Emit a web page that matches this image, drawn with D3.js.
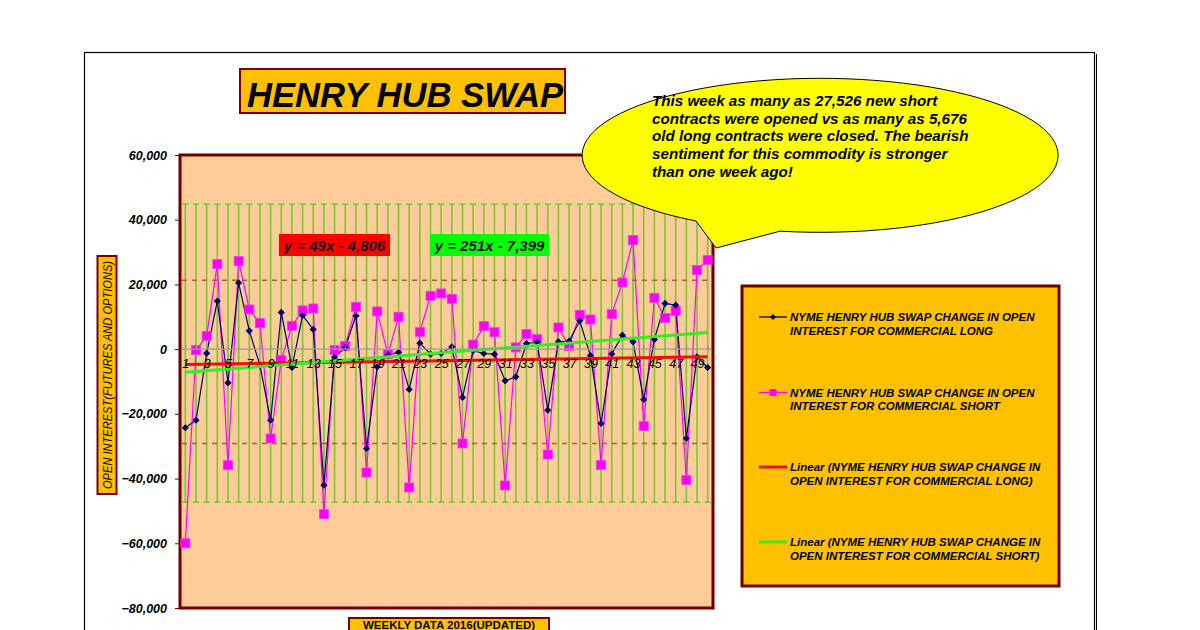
<!DOCTYPE html>
<html>
<head>
<meta charset="utf-8">
<script src="https://cdn.jsdelivr.net/npm/d3@7"></script>
<style>
  html, body { margin: 0; padding: 0; background: #ffffff; }
  svg { display: block; font-family: "Liberation Sans", Arial, sans-serif; }
</style>
</head>
<body>
<svg id="chart" width="1200" height="630"></svg>
<script>
// ---------------- DATA ----------------
const weeks = [1,2,3,4,5,6,7,8,9,10,11,12,13,14,15,16,17,18,19,20,21,22,23,24,25,
               26,27,28,29,30,31,32,33,34,35,36,37,38,39,40,41,42,43,44,45,46,47,48,49,50];
const weekLabels = weeks.map(w => (w % 2 === 1 ? String(w) : ""));

const commercialLong = [
  -24300, -21950, -1300, 14840, -10400, 20500, 5660, -5000, -21950, 11340,
  -5660, 10400, 6080, -42040, -2500, 500, 10300, -30700, -5460, -1800,
  -930, -12460, 1850, -1550, -1340, 710, -14930, -500, -1340, -1550,
  -9800, -8560, 1750, 2200, -18860, 2270, 2470, 8760, -2000, -22970,
  -1500, 4330, 2270, -15550, 3000, 14120, 13600, -27600, -2370, -5676
];
const commercialShort = [
  -60000, -300, 4020, 26270, -35860, 27200, 12260, 8040, -27600, -3400,
  7200, 11960, 12570, -51000, -300, 1000, 13080, -38120, 11650, -1600,
  9990, -42750, 5350, 16480, 17210, 15550, -29150, 1400, 7110, 5250,
  -42140, 530, 4640, 3100, -32560, 6700, 930, 10610, 9170, -35760,
  10820, 20610, 33690, -23800, 15860, 9580, 11840, -40490, 24420, 27526
];

const yTicks = [60000, 40000, 20000, 0, -20000, -40000, -60000, -80000];
const yDomain = [-80000, 60000];

// trend lines (from the equations shown on the chart)
const trendNames = ["long", "short"];
const trendSlopes = [49, 251];
const trendIntercepts = [-4806, -7399];
const equationTexts = ["y = 49x - 4,806", "y = 251x - 7,399"];

// vertical green bars (high / low) and dashed reference levels
const barHigh = [44800];
const barLow = [-47300];
const dashedLevels = [21300, -29150];

const titleText = "HENRY HUB SWAP";
const yTitle = "OPEN INTEREST(FUTURES AND OPTIONS)";
const xTitle = "WEEKLY DATA 2016(UPDATED)";
const calloutLines = [
  "This week as many as 27,526 new short",
  "contracts were opened vs as many as 5,676",
  "old long contracts were closed. The bearish",
  "sentiment for this commodity is stronger",
  "than one week ago!"
];
const legendEntries = [
  ["NYME HENRY HUB SWAP CHANGE IN OPEN", "INTEREST FOR COMMERCIAL LONG"],
  ["NYME HENRY HUB SWAP CHANGE IN OPEN", "INTEREST FOR COMMERCIAL SHORT"],
  ["Linear (NYME HENRY HUB SWAP CHANGE IN", "OPEN INTEREST FOR COMMERCIAL LONG)"],
  ["Linear (NYME HENRY HUB SWAP CHANGE IN", "OPEN INTEREST FOR COMMERCIAL SHORT)"]
];

// ---------------- DRAW ----------------
const svg = d3.select("#chart");
const P = { left: 180, right: 713, top: 155, bottom: 608 };

const x = d3.scalePoint().domain(weeks).range([P.left, P.right]).padding(0.5);
const y = d3.scaleLinear().domain(yDomain).range([P.bottom, P.top]);

// outer frame
svg.append("rect").attr("x", 84.5).attr("y", 52.5).attr("width", 1010).attr("height", 640)
  .attr("fill", "none").attr("stroke", "#000").attr("stroke-width", 1.2);
svg.append("line").attr("x1", 1096.5).attr("x2", 1096.5).attr("y1", 54).attr("y2", 630)
  .attr("stroke", "#000").attr("stroke-width", 1);

// plot area
svg.append("rect").attr("x", P.left).attr("y", P.top)
  .attr("width", P.right - P.left).attr("height", P.bottom - P.top)
  .attr("fill", "#FFCC99").attr("stroke", "#6E0000").attr("stroke-width", 3);

// green vertical bars with caps
const gBars = svg.append("g");
weeks.forEach(w => {
  const cx = x(w);
  gBars.append("line").attr("x1", cx).attr("x2", cx)
    .attr("y1", y(barHigh[0])).attr("y2", y(barLow[0]))
    .attr("stroke", "#6CCF2E").attr("stroke-width", 1.6);
  [barHigh[0], barLow[0]].forEach(v => {
    gBars.append("line").attr("x1", cx - 3).attr("x2", cx + 3)
      .attr("y1", y(v)).attr("y2", y(v))
      .attr("stroke", "#6CCF2E").attr("stroke-width", 1.6);
  });
});

// dashed levels
dashedLevels.forEach(v => {
  svg.append("line").attr("x1", P.left + 2).attr("x2", P.right - 2)
    .attr("y1", y(v)).attr("y2", y(v))
    .attr("stroke", "#A8602A").attr("stroke-width", 1.5)
    .attr("stroke-dasharray", "5,5");
});

// y axis
const yAxis = svg.append("g").attr("transform", `translate(${P.left - 1},0)`)
  .call(d3.axisLeft(y).tickValues(yTicks).tickFormat(d3.format(",")).tickSize(4).tickPadding(8));
yAxis.select(".domain").remove();
yAxis.selectAll(".tick line").attr("stroke", "#6E0000");
yAxis.selectAll(".tick text")
  .attr("font-family", "'Liberation Sans', Arial, sans-serif")
  .attr("font-size", 12.5).attr("font-weight", "bold").attr("font-style", "italic")
  .attr("fill", "#000");

// zero category axis
const xAxis = svg.append("g").attr("transform", `translate(0,${y(0)})`)
  .call(d3.axisBottom(x).tickFormat((d, i) => weekLabels[i]).tickSizeInner(-4).tickSizeOuter(0).tickPadding(10));
xAxis.select(".domain").attr("stroke", "#9A9A9A").attr("stroke-width", 1.2)
  .attr("d", `M${P.left + 2},0H${P.right - 2}`);
xAxis.selectAll(".tick line").attr("stroke", "#9A9A9A");

// series lines
const lineGen = d3.line().x((d, i) => x(weeks[i])).y(d => y(d));
svg.append("path").datum(commercialShort).attr("d", lineGen)
  .attr("fill", "none").attr("stroke", "#FF00FF").attr("stroke-width", 1.2);
svg.append("path").datum(commercialLong).attr("d", lineGen)
  .attr("fill", "none").attr("stroke", "#000066").attr("stroke-width", 1.2);

// markers
svg.append("g").selectAll("rect").data(commercialShort).join("rect")
  .attr("x", (d, i) => x(weeks[i]) - 4.5).attr("y", d => y(d) - 4.5)
  .attr("width", 9).attr("height", 9)
  .attr("fill", "#FF00FF").attr("stroke", "#E040E0").attr("stroke-width", 0.8);
svg.append("g").selectAll("path").data(commercialLong).join("path")
  .attr("d", (d, i) => {
    const cx = x(weeks[i]), cy = y(d), r = 3.6;
    return `M${cx},${cy - r}L${cx + r},${cy}L${cx},${cy + r}L${cx - r},${cy}Z`;
  })
  .attr("fill", "#000066");

// trend lines
const trendColors = ["#EE1100", "#33EE22"];
trendNames.forEach((n, k) => {
  const x0 = weeks[0], x1 = weeks[weeks.length - 1];
  svg.append("line")
    .attr("x1", x(x0)).attr("y1", y(trendSlopes[k] * x0 + trendIntercepts[k]))
    .attr("x2", x(x1)).attr("y2", y(trendSlopes[k] * x1 + trendIntercepts[k]))
    .attr("stroke", trendColors[k]).attr("stroke-width", 3);
});

// category labels on top
xAxis.raise();
xAxis.selectAll(".tick text")
  .attr("font-family", "'Liberation Sans', Arial, sans-serif")
  .attr("font-size", 12.5).attr("font-style", "italic").attr("fill", "#000");

// equation boxes
const eqBoxes = [
  { x: 279, w: 111, fill: "#FF0000" },
  { x: 430, w: 119, fill: "#00FF00" }
];
equationTexts.forEach((t, k) => {
  svg.append("rect").attr("x", eqBoxes[k].x).attr("y", 234).attr("width", eqBoxes[k].w).attr("height", 22)
    .attr("fill", eqBoxes[k].fill);
  svg.append("text").attr("x", eqBoxes[k].x + eqBoxes[k].w / 2).attr("y", 250.5)
    .attr("text-anchor", "middle").attr("font-size", 15).attr("font-weight", "bold")
    .attr("font-style", "italic").attr("fill", "#111").text(t);
});

// title
svg.append("rect").attr("x", 240).attr("y", 69).attr("width", 325).attr("height", 44)
  .attr("fill", "#FFC000").attr("stroke", "#7A0000").attr("stroke-width", 2);
svg.append("text").attr("x", 247).attr("y", 106.5)
  .attr("font-size", 35).attr("font-weight", "bold").attr("font-style", "italic")
  .attr("textLength", 316).attr("lengthAdjust", "spacingAndGlyphs")
  .attr("fill", "#000").text(titleText);

// y-axis title
const yt = svg.append("g").attr("transform", "translate(107,375) rotate(-90)");
yt.append("rect").attr("x", -119).attr("y", -9.5).attr("width", 238).attr("height", 19)
  .attr("fill", "#FFC000").attr("stroke", "#7A0000").attr("stroke-width", 2);
yt.append("text").attr("x", 0).attr("y", 4.5).attr("text-anchor", "middle")
  .attr("font-size", 12).attr("font-style", "italic").attr("fill", "#1a0000")
  .attr("textLength", 228).attr("lengthAdjust", "spacingAndGlyphs")
  .text(yTitle);

// x-axis title
svg.append("rect").attr("x", 349).attr("y", 618).attr("width", 200).attr("height", 20)
  .attr("fill", "#FFC000").attr("stroke", "#7A0000").attr("stroke-width", 2);
svg.append("text").attr("x", 449).attr("y", 628.5).attr("text-anchor", "middle")
  .attr("font-size", 11.5).attr("font-weight", "bold").attr("fill", "#000")
  .text(xTitle);

// legend
svg.append("rect").attr("x", 742).attr("y", 286).attr("width", 317).attr("height", 300)
  .attr("fill", "#FFC000").attr("stroke", "#6E0000").attr("stroke-width", 3);
const legY = [317, 392.5, 467, 542];
const legColors = ["#000066", "#FF00FF", "#EE1100", "#33EE22"];
legendEntries.forEach((lines, k) => {
  const ly = legY[k];
  svg.append("line").attr("x1", 759).attr("x2", 787).attr("y1", ly).attr("y2", ly)
    .attr("stroke", legColors[k]).attr("stroke-width", k < 2 ? 1.3 : 3);
  if (k === 0) {
    svg.append("path").attr("d", `M773,${ly - 3}L776,${ly}L773,${ly + 3}L770,${ly}Z`).attr("fill", "#000066");
  } else if (k === 1) {
    svg.append("rect").attr("x", 769.5).attr("y", ly - 3.5).attr("width", 7).attr("height", 7).attr("fill", "#FF00FF");
  }
  lines.forEach((t, j) => {
    svg.append("text").attr("x", 790).attr("y", ly + 4 + j * 13.5)
      .attr("font-size", 11.5).attr("font-weight", "bold").attr("font-style", "italic")
      .attr("fill", "#000").text(t);
  });
});

// callout bubble
svg.append("path")
  .attr("d", "M780,231.2 L716,248 L696,221 A238,77 0 1 1 780,231.2 Z")
  .attr("fill", "#FFFF00").attr("stroke", "#000").attr("stroke-width", 1);
calloutLines.forEach((t, i) => {
  svg.append("text").attr("x", 652).attr("y", 106 + i * 17.7)
    .attr("font-size", 15.2).attr("font-weight", "bold").attr("font-style", "italic")
    .attr("fill", "#000").text(t);
});
</script>
</body>
</html>
